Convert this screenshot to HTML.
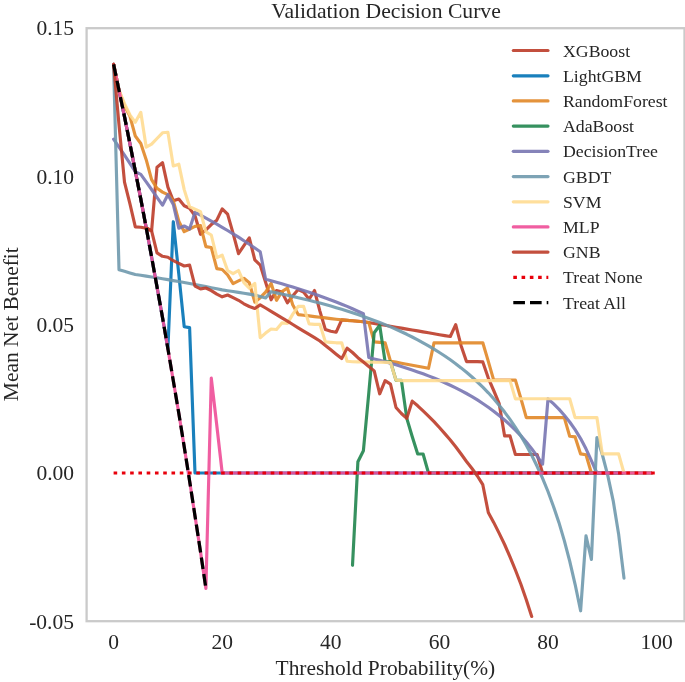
<!DOCTYPE html>
<html><head><meta charset="utf-8"><title>Validation Decision Curve</title>
<style>
html,body{margin:0;padding:0;background:#fff}
svg{display:block}
text{font-family:"Liberation Serif","Times New Roman",serif;fill:#262626}
.tk{font-size:21.5px}
.lg{font-size:17.75px}
.c{fill:none;stroke-opacity:0.9;stroke-width:3.15;stroke-linejoin:round;stroke-linecap:round}
</style></head><body>
<svg width="685" height="682" viewBox="0 0 685 682">
<rect width="685" height="682" fill="#fff"/>
<path class="c" stroke="#BC3C29" d="M113.6,64.4 L119.0,90.3 L124.5,116.7 L129.9,143.6 L135.3,171.0 L140.8,199.1 L146.2,227.7 L151.6,230.8 L157.0,167.2 L162.5,162.7 L167.9,187.1 L173.3,200.8 L178.8,199.1 L184.2,205.8 L189.6,208.3 L195.0,215.8 L200.5,234.3 L205.9,229.9 L211.3,224.6 L216.8,220.2 L222.2,208.8 L227.6,214.1 L233.1,233.4 L238.5,253.7 L243.9,245.7 L249.3,237.8 L254.8,259.8 L260.2,265.1 L265.6,282.3 L271.1,299.8 L276.5,290.5 L281.9,292.1 L287.4,302.8 L292.8,295.7 L298.2,289.5 L303.6,292.1 L309.1,299.3 L314.5,290.5 L319.9,311.1 L325.4,329.6 L330.8,331.3 L336.2,332.2 L341.7,319.9 L347.1,320.4 L352.5,320.8 L357.9,321.2 L363.4,321.7 L368.8,322.6 L374.2,323.5 L379.7,324.4 L385.1,325.3 L390.5,326.3 L396.0,327.2 L401.4,328.1 L406.8,329.1 L412.2,330.0 L417.7,330.9 L423.1,331.9 L428.5,332.8 L434.0,333.7 L439.4,334.7 L444.8,335.6 L450.3,336.5 L455.7,324.6 L461.1,345.7 L466.5,361.6 L472.0,361.6 L477.4,361.6 L482.8,361.9 L488.3,378.1 L493.7,390.5 L499.1,403.3 L504.6,435.9 L510.0,435.9 L515.4,454.5 L520.9,454.5 L526.3,454.5 L531.7,454.5 L537.1,454.5 L542.6,473.1 L548.0,473.0 L553.4,473.0 L558.9,473.0 L564.3,473.0 L569.7,473.0 L575.1,473.0 L580.6,473.0 L586.0,473.0 L591.4,473.0 L596.9,473.0 L602.3,473.0 L607.7,473.0 L613.2,473.0 L618.6,473.0 L624.0,473.0 L629.5,473.0 L634.9,473.0 L640.3,473.0 L645.7,473.0 L651.2,473.0"/>
<path class="c" stroke="#0072B5" d="M113.6,64.4 L119.0,90.3 L124.5,116.7 L129.9,143.6 L135.3,171.0 L140.8,199.1 L146.2,227.7 L151.6,257.0 L157.0,286.9 L162.5,317.5 L167.9,348.7 L173.3,221.7 L178.8,274.2 L184.2,326.7 L189.6,327.6 L195.0,473.0 L200.5,473.0 L205.9,473.0 L211.3,473.0 L216.8,473.0 L222.2,473.0 L227.6,473.0 L233.1,473.0 L238.5,473.0 L243.9,473.0 L249.3,473.0 L254.8,473.0 L260.2,473.0 L265.6,473.0 L271.1,473.0 L276.5,473.0 L281.9,473.0 L287.4,473.0 L292.8,473.0 L298.2,473.0 L303.6,473.0 L309.1,473.0 L314.5,473.0 L319.9,473.0 L325.4,473.0 L330.8,473.0 L336.2,473.0 L341.7,473.0 L347.1,473.0 L352.5,473.0 L357.9,473.0 L363.4,473.0 L368.8,473.0 L374.2,473.0 L379.7,473.0 L385.1,473.0 L390.5,473.0 L396.0,473.0 L401.4,473.0 L406.8,473.0 L412.2,473.0 L417.7,473.0 L423.1,473.0 L428.5,473.0 L434.0,473.0 L439.4,473.0 L444.8,473.0 L450.3,473.0 L455.7,473.0 L461.1,473.0 L466.5,473.0 L472.0,473.0 L477.4,473.0 L482.8,473.0 L488.3,473.0 L493.7,473.0 L499.1,473.0 L504.6,473.0 L510.0,473.0 L515.4,473.0 L520.9,473.0 L526.3,473.0 L531.7,473.0 L537.1,473.0 L542.6,473.0 L548.0,473.0 L553.4,473.0 L558.9,473.0 L564.3,473.0 L569.7,473.0 L575.1,473.0 L580.6,473.0 L586.0,473.0 L591.4,473.0 L596.9,473.0 L602.3,473.0 L607.7,473.0 L613.2,473.0 L618.6,473.0 L624.0,473.0 L629.5,473.0 L634.9,473.0 L640.3,473.0 L645.7,473.0 L651.2,473.0"/>
<path class="c" stroke="#E18727" d="M113.6,64.4 L119.0,90.3 L124.5,106.1 L129.9,116.1 L135.3,136.0 L140.8,143.5 L146.2,159.7 L151.6,179.6 L157.0,188.3 L162.5,192.1 L167.9,194.6 L173.3,200.8 L178.8,221.1 L184.2,231.7 L189.6,229.0 L195.0,226.4 L200.5,225.5 L205.9,246.6 L211.3,247.5 L216.8,268.6 L222.2,269.5 L227.6,274.8 L233.1,283.6 L238.5,280.9 L243.9,278.3 L249.3,282.7 L254.8,302.1 L260.2,297.7 L265.6,292.1 L271.1,283.3 L276.5,300.3 L281.9,291.6 L287.4,288.0 L292.8,304.9 L298.2,314.6 L303.6,315.2 L309.1,315.9 L314.5,316.6 L319.9,317.3 L325.4,317.9 L330.8,318.6 L336.2,319.3 L341.7,319.9 L347.1,320.4 L352.5,320.8 L357.9,321.2 L363.4,321.7 L368.8,322.6 L374.2,341.9 L379.7,342.4 L385.1,342.8 L390.5,361.3 L396.0,362.1 L401.4,363.2 L406.8,364.2 L412.2,365.2 L417.7,366.2 L423.1,367.3 L428.5,368.3 L434.0,342.8 L439.4,342.8 L444.8,342.8 L450.3,342.8 L455.7,342.8 L461.1,342.8 L466.5,342.8 L472.0,342.8 L477.4,342.8 L482.8,342.8 L488.3,361.4 L493.7,380.1 L499.1,380.1 L504.6,380.1 L510.0,380.1 L515.4,380.1 L520.9,398.5 L526.3,417.6 L531.7,417.6 L537.1,417.6 L542.6,417.6 L548.0,417.6 L553.4,417.6 L558.9,417.6 L564.3,417.6 L569.7,436.2 L575.1,436.9 L580.6,453.9 L586.0,454.8 L591.4,473.0 L596.9,473.0 L602.3,473.0 L607.7,473.0 L613.2,473.0 L618.6,473.0 L624.0,473.0 L629.5,473.0 L634.9,473.0 L640.3,473.0 L645.7,473.0 L651.2,473.0"/>
<path class="c" stroke="#20854E" d="M352.5,565.3 L357.9,461.7 L363.4,450.7 L368.8,392.9 L374.2,332.7 L379.7,325.2 L385.1,361.7 L390.5,361.7 L396.0,380.3 L401.4,380.3 L406.8,418.4 L412.2,436.5 L417.7,454.0 L423.1,454.0 L428.5,473.0 L434.0,473.0 L439.4,473.0 L444.8,473.0 L450.3,473.0 L455.7,473.0 L461.1,473.0 L466.5,473.0 L472.0,473.0 L477.4,473.0 L482.8,473.0 L488.3,473.0 L493.7,473.0 L499.1,473.0 L504.6,473.0 L510.0,473.0 L515.4,473.0 L520.9,473.0 L526.3,473.0 L531.7,473.0 L537.1,473.0 L542.6,473.0 L548.0,473.0 L553.4,473.0 L558.9,473.0 L564.3,473.0 L569.7,473.0 L575.1,473.0 L580.6,473.0 L586.0,473.0 L591.4,473.0 L596.9,473.0 L602.3,473.0 L607.7,473.0 L613.2,473.0 L618.6,473.0 L624.0,473.0 L629.5,473.0 L634.9,473.0 L640.3,473.0 L645.7,473.0 L651.2,473.0"/>
<path class="c" stroke="#7876B1" d="M113.6,139.2 L119.0,147.1 L124.5,155.1 L129.9,163.3 L135.3,171.7 L140.8,174.3 L146.2,181.8 L151.6,189.5 L157.0,197.3 L162.5,205.2 L167.9,194.7 L173.3,204.5 L178.8,228.2 L184.2,226.0 L189.6,229.0 L195.0,212.3 L200.5,215.2 L205.9,218.1 L211.3,221.1 L216.8,224.1 L222.2,227.3 L227.6,230.5 L233.1,233.8 L238.5,237.2 L243.9,240.7 L249.3,244.3 L254.8,248.0 L260.2,251.7 L265.6,279.3 L271.1,280.8 L276.5,282.3 L281.9,283.8 L287.4,285.4 L292.8,287.0 L298.2,288.7 L303.6,290.4 L309.1,292.2 L314.5,294.0 L319.9,295.9 L325.4,297.9 L330.8,299.9 L336.2,302.0 L341.7,304.2 L347.1,306.4 L352.5,308.8 L357.9,311.2 L363.4,313.7 L368.8,357.5 L374.2,358.9 L379.7,360.3 L385.1,361.7 L390.5,363.3 L396.0,364.8 L401.4,366.5 L406.8,368.2 L412.2,370.0 L417.7,371.9 L423.1,373.8 L428.5,375.9 L434.0,378.0 L439.4,380.3 L444.8,382.7 L450.3,385.2 L455.7,387.8 L461.1,390.6 L466.5,393.5 L472.0,396.6 L477.4,399.9 L482.8,403.5 L488.3,407.2 L493.7,411.2 L499.1,415.5 L504.6,420.0 L510.0,424.9 L515.4,430.2 L520.9,435.9 L526.3,442.1 L531.7,448.8 L537.1,456.1 L542.6,464.2 L548.0,398.8 L553.4,403.7 L558.9,409.1 L564.3,415.2 L569.7,422.0 L575.1,429.7 L580.6,438.6 L586.0,448.8 L591.4,460.6 L596.9,473.0 L602.3,473.0 L607.7,473.0 L613.2,473.0 L618.6,473.0 L624.0,473.0 L629.5,473.0 L634.9,473.0 L640.3,473.0 L645.7,473.0 L651.2,473.0"/>
<path class="c" stroke="#6F99AD" d="M113.6,64.4 L119.0,269.8 L124.5,271.3 L129.9,272.9 L135.3,274.5 L140.8,275.3 L146.2,276.1 L151.6,277.0 L157.0,277.8 L162.5,278.7 L167.9,279.6 L173.3,280.6 L178.8,281.5 L184.2,282.5 L189.6,283.5 L195.0,284.5 L200.5,285.5 L205.9,286.6 L211.3,287.7 L216.8,288.8 L222.2,289.9 L227.6,290.7 L233.1,291.5 L238.5,292.4 L243.9,293.2 L249.3,294.1 L254.8,295.1 L260.2,296.5 L265.6,297.9 L271.1,291.7 L276.5,292.9 L281.9,294.0 L287.4,295.2 L292.8,296.4 L298.2,297.7 L303.6,299.0 L309.1,300.3 L314.5,301.7 L319.9,303.1 L325.4,304.6 L330.8,306.1 L336.2,307.7 L341.7,309.3 L347.1,311.0 L352.5,312.7 L357.9,314.5 L363.4,316.4 L368.8,318.4 L374.2,320.4 L379.7,322.5 L385.1,324.6 L390.5,326.9 L396.0,329.3 L401.4,331.8 L406.8,334.3 L412.2,337.0 L417.7,339.8 L423.1,342.8 L428.5,345.8 L434.0,349.1 L439.4,352.5 L444.8,356.0 L450.3,359.8 L455.7,363.7 L461.1,367.9 L466.5,372.3 L472.0,377.0 L477.4,382.0 L482.8,387.2 L488.3,392.8 L493.7,398.8 L499.1,405.2 L504.6,412.1 L510.0,419.4 L515.4,427.4 L520.9,435.9 L526.3,445.2 L531.7,455.3 L537.1,466.3 L542.6,478.3 L548.0,491.5 L553.4,506.2 L558.9,522.4 L564.3,540.6 L569.7,561.1 L575.1,584.3 L580.6,610.8 L586.0,535.8 L591.4,559.5 L596.9,437.6 L602.3,454.5 L607.7,475.1 L613.2,500.8 L618.6,533.9 L624.0,578.1"/>
<path class="c" stroke="#FFDC91" d="M113.6,64.4 L119.0,90.3 L124.5,103.6 L129.9,114.8 L135.3,122.3 L140.8,112.3 L146.2,147.2 L151.6,144.2 L157.0,138.5 L162.5,132.8 L167.9,132.3 L173.3,165.9 L178.8,164.2 L184.2,189.6 L189.6,206.8 L195.0,209.2 L200.5,211.6 L205.9,231.8 L211.3,235.0 L216.8,257.6 L222.2,255.2 L227.6,270.5 L233.1,273.7 L238.5,270.5 L243.9,282.6 L249.3,288.2 L254.8,283.4 L260.2,337.7 L265.6,333.1 L271.1,329.0 L276.5,329.5 L281.9,322.9 L287.4,323.4 L292.8,314.1 L298.2,306.4 L303.6,306.4 L309.1,323.9 L314.5,324.4 L319.9,324.4 L325.4,341.9 L330.8,342.4 L336.2,342.8 L341.7,342.8 L347.1,361.3 L352.5,361.8 L357.9,361.9 L363.4,362.0 L368.8,362.1 L374.2,362.2 L379.7,362.3 L385.1,362.4 L390.5,362.5 L396.0,380.1 L401.4,380.6 L406.8,380.6 L412.2,380.6 L417.7,380.6 L423.1,380.6 L428.5,380.6 L434.0,380.6 L439.4,380.6 L444.8,380.6 L450.3,380.6 L455.7,380.6 L461.1,380.6 L466.5,380.6 L472.0,380.6 L477.4,380.6 L482.8,380.6 L488.3,380.6 L493.7,380.6 L499.1,380.6 L504.6,380.6 L510.0,380.6 L515.4,398.9 L520.9,398.7 L526.3,398.7 L531.7,398.7 L537.1,398.7 L542.6,398.7 L548.0,398.7 L553.4,398.7 L558.9,398.7 L564.3,398.7 L569.7,398.7 L575.1,417.6 L580.6,417.6 L586.0,417.6 L591.4,417.6 L596.9,417.6 L602.3,453.9 L607.7,453.9 L613.2,453.9 L618.6,453.9 L624.0,473.0 L629.5,473.0 L634.9,473.0 L640.3,473.0 L645.7,473.0 L651.2,473.0"/>
<path class="c" stroke="#EE4C97" d="M113.6,64.4 L119.0,90.3 L124.5,116.7 L129.9,143.6 L135.3,171.0 L140.8,199.1 L146.2,227.7 L151.6,257.0 L157.0,286.9 L162.5,317.5 L167.9,348.7 L173.3,380.7 L178.8,413.3 L184.2,446.7 L189.6,480.9 L195.0,515.9 L200.5,551.8 L205.9,588.5 L211.3,378.1 L216.8,425.5 L222.2,473.0 L227.6,473.0 L233.1,473.0 L238.5,473.0 L243.9,473.0 L249.3,473.0 L254.8,473.0 L260.2,473.0 L265.6,473.0 L271.1,473.0 L276.5,473.0 L281.9,473.0 L287.4,473.0 L292.8,473.0 L298.2,473.0 L303.6,473.0 L309.1,473.0 L314.5,473.0 L319.9,473.0 L325.4,473.0 L330.8,473.0 L336.2,473.0 L341.7,473.0 L347.1,473.0 L352.5,473.0 L357.9,473.0 L363.4,473.0 L368.8,473.0 L374.2,473.0 L379.7,473.0 L385.1,473.0 L390.5,473.0 L396.0,473.0 L401.4,473.0 L406.8,473.0 L412.2,473.0 L417.7,473.0 L423.1,473.0 L428.5,473.0 L434.0,473.0 L439.4,473.0 L444.8,473.0 L450.3,473.0 L455.7,473.0 L461.1,473.0 L466.5,473.0 L472.0,473.0 L477.4,473.0 L482.8,473.0 L488.3,473.0 L493.7,473.0 L499.1,473.0 L504.6,473.0 L510.0,473.0 L515.4,473.0 L520.9,473.0 L526.3,473.0 L531.7,473.0 L537.1,473.0 L542.6,473.0 L548.0,473.0 L553.4,473.0 L558.9,473.0 L564.3,473.0 L569.7,473.0 L575.1,473.0 L580.6,473.0 L586.0,473.0 L591.4,473.0 L596.9,473.0 L602.3,473.0 L607.7,473.0 L613.2,473.0 L618.6,473.0 L624.0,473.0 L629.5,473.0 L634.9,473.0 L640.3,473.0 L645.7,473.0 L651.2,473.0"/>
<path class="c" stroke="#BC3C29" d="M113.6,64.4 L119.0,124.8 L124.5,182.1 L129.9,203.6 L135.3,226.9 L140.8,227.3 L146.2,228.2 L151.6,230.8 L157.0,252.8 L162.5,256.3 L167.9,257.2 L173.3,260.7 L178.8,263.3 L184.2,266.0 L189.6,265.1 L195.0,286.2 L200.5,288.9 L205.9,288.0 L211.3,290.6 L216.8,294.1 L222.2,296.8 L227.6,295.0 L233.1,297.7 L238.5,300.3 L243.9,303.8 L249.3,306.5 L254.8,308.5 L260.2,304.9 L265.6,308.0 L271.1,311.3 L276.5,314.6 L281.9,317.9 L287.4,321.2 L292.8,324.5 L298.2,327.8 L303.6,331.1 L309.1,334.4 L314.5,337.7 L319.9,341.0 L325.4,345.4 L330.8,349.8 L336.2,354.2 L341.7,358.6 L347.1,348.1 L352.5,352.5 L357.9,357.7 L363.4,362.1 L368.8,366.5 L374.2,370.9 L379.7,393.8 L385.1,380.6 L390.5,384.1 L396.0,407.5 L401.4,413.5 L406.8,418.4 L412.2,401.1 L417.7,405.8 L423.1,410.9 L428.5,416.1 L434.0,421.6 L439.4,427.5 L444.8,433.6 L450.3,440.0 L455.7,446.8 L461.1,454.0 L466.5,461.5 L472.0,468.5 L477.4,476.0 L482.8,484.7 L488.3,512.5 L493.7,522.4 L499.1,533.1 L504.6,544.5 L510.0,556.8 L515.4,570.0 L520.9,584.3 L526.3,599.7 L531.7,616.5"/>
<path d="M113.6,473.0 L656.6,473.0" fill="none" stroke="#e8000b" stroke-width="3.15" stroke-dasharray="3.6 4.67"/>
<path d="M113.6,64.4 L119.0,90.3 L124.5,116.7 L129.9,143.6 L135.3,171.0 L140.8,199.1 L146.2,227.7 L151.6,257.0 L157.0,286.9 L162.5,317.5 L167.9,348.7 L173.3,380.7 L178.8,413.3 L184.2,446.7 L189.6,480.9 L195.0,515.9 L200.5,551.8 L205.9,588.5" fill="none" stroke="#000" stroke-width="3.25" stroke-dasharray="11.65 5.05" stroke-linejoin="round"/>
<rect x="86.6" y="28.2" width="597.9" height="593" fill="none" stroke="#cacaca" stroke-width="2.3"/>
<text class="tk" style="font-size:21.65px" x="386" y="17.7" text-anchor="middle">Validation Decision Curve</text>
<text class="tk" style="font-size:21.45px" x="385.4" y="675.4" text-anchor="middle">Threshold Probability(%)</text>
<text class="tk" transform="translate(18.3,324.2) rotate(-90)" text-anchor="middle">Mean Net Benefit</text>
<text class="tk" x="113.6" y="649.2" text-anchor="middle">0</text>
<text class="tk" x="222.2" y="649.2" text-anchor="middle">20</text>
<text class="tk" x="330.8" y="649.2" text-anchor="middle">40</text>
<text class="tk" x="439.4" y="649.2" text-anchor="middle">60</text>
<text class="tk" x="548.0" y="649.2" text-anchor="middle">80</text>
<text class="tk" x="656.6" y="649.2" text-anchor="middle">100</text>
<text class="tk" x="74" y="35.2" text-anchor="end">0.15</text>
<text class="tk" x="74" y="183.6" text-anchor="end">0.10</text>
<text class="tk" x="74" y="331.9" text-anchor="end">0.05</text>
<text class="tk" x="74" y="480.3" text-anchor="end">0.00</text>
<text class="tk" x="74" y="628.6" text-anchor="end">-0.05</text>
<path class="c" stroke="#BC3C29" d="M513.3,50.5 L548,50.5"/><text class="lg" x="563.0" y="56.5">XGBoost</text>
<path class="c" stroke="#0072B5" d="M513.3,75.8 L548,75.8"/><text class="lg" x="563.0" y="81.8">LightGBM</text>
<path class="c" stroke="#E18727" d="M513.3,100.9 L548,100.9"/><text class="lg" x="563.0" y="106.9">RandomForest</text>
<path class="c" stroke="#20854E" d="M513.3,126.1 L548,126.1"/><text class="lg" x="563.0" y="132.1">AdaBoost</text>
<path class="c" stroke="#7876B1" d="M513.3,151.3 L548,151.3"/><text class="lg" x="563.0" y="157.3">DecisionTree</text>
<path class="c" stroke="#6F99AD" d="M513.3,176.6 L548,176.6"/><text class="lg" x="563.0" y="182.6">GBDT</text>
<path class="c" stroke="#FFDC91" d="M513.3,201.8 L548,201.8"/><text class="lg" x="563.0" y="207.8">SVM</text>
<path class="c" stroke="#EE4C97" d="M513.3,226.9 L548,226.9"/><text class="lg" x="563.0" y="232.9">MLP</text>
<path class="c" stroke="#BC3C29" d="M513.3,252.1 L548,252.1"/><text class="lg" x="563.0" y="258.1">GNB</text>
<path d="M513.3,277.3 L548.3,277.3" fill="none" stroke="#e8000b" stroke-width="3.15" stroke-dasharray="3.6 4.67"/><text class="lg" x="563.0" y="283.3">Treat None</text>
<path d="M513.3,302.6 L548.3,302.6" fill="none" stroke="#000" stroke-width="3.25" stroke-dasharray="11.65 5.05"/><text class="lg" x="563.0" y="308.6">Treat All</text>
</svg></body></html>
